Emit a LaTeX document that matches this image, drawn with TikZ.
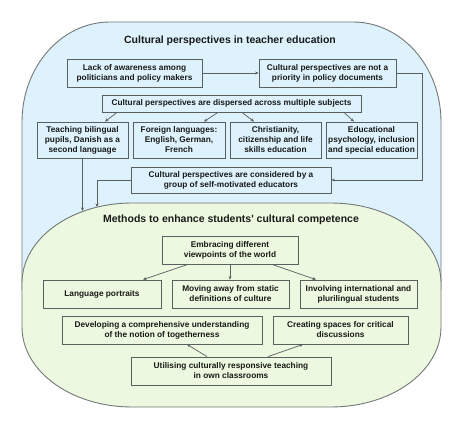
\documentclass[tikz,border=0pt]{standalone}
\usepackage{fontspec}
\setmainfont{Liberation Sans}
\usetikzlibrary{arrows.meta,positioning}
\definecolor{bgblue}{RGB}{221,242,252}
\definecolor{bggreen}{RGB}{236,248,223}
\definecolor{edge}{RGB}{90,96,96}
\definecolor{rim}{RGB}{115,120,120}
\definecolor{ink}{RGB}{25,25,25}
\begin{document}
\begin{tikzpicture}[x=1pt, y=-1pt,
	box/.style={draw=edge, line width=0.8pt, align=center, text=ink, inner sep=1pt,
	font=\bfseries\fontsize{8.3}{10}\selectfont},
	bbox/.style={box, fill=bgblue},
	gbox/.style={box, fill=bggreen},
	ttl/.style={text=ink, font=\bfseries\fontsize{10.5}{12}\selectfont},
	arr/.style={draw=edge, line width=0.7pt, -{Stealth[length=3.5pt,width=3pt]}}]
\useasboundingbox (0,0) rectangle (463,430);
\fill[white] (0,0) rectangle (463,430);
\draw[draw=rim, fill=bgblue, line width=0.9pt] (22,290) -- (22,122)
	arc[start angle=180, end angle=270, x radius=88, y radius=100] -- (353,22)
	arc[start angle=270, end angle=360, x radius=88, y radius=100] -- (441,290) -- cycle;
\draw[draw=rim, fill=bggreen, line width=0.9pt] (132,203) -- (331,203)
	arc[start angle=270, end angle=360, x radius=110, y radius=80] -- (441,327)
	arc[start angle=0, end angle=90, x radius=110, y radius=80] -- (132,407)
	arc[start angle=90, end angle=180, x radius=110, y radius=80] -- (22,283)
	arc[start angle=180, end angle=270, x radius=110, y radius=80] -- cycle;
\node[ttl] (t1) at (230,41) {Cultural perspectives in teacher education};
\node[bbox, minimum width=135pt, minimum height=28pt] (lack) at (134.5,73) {Lack of awareness among\\politicians and policy makers};
\node[bbox, minimum width=137pt, minimum height=28pt] (prio) at (327.5,73) {Cultural perspectives are not a\\priority in policy documents};
\node[bbox, minimum width=259pt, minimum height=17pt] (disp) at (231.5,103.5) {Cultural perspectives are dispersed across multiple subjects};
\node[bbox, minimum width=91pt, minimum height=36pt] (tA) at (82.5,140) {Teaching bilingual\\pupils, Danish as a\\second language};
\node[bbox, minimum width=92pt, minimum height=36pt] (tB) at (179,140) {Foreign languages:\\English, German,\\French};
\node[bbox, minimum width=91pt, minimum height=36pt] (tC) at (275.5,140) {Christianity,\\citizenship and life\\skills education};
\node[bbox, minimum width=91pt, minimum height=36pt] (tD) at (371.5,140) {Educational\\psychology, inclusion\\and special education};
\node[bbox, minimum width=200pt, minimum height=26pt] (cons) at (231,180) {Cultural perspectives are considered by a\\group of self-motivated educators};
\coordinate (tipA) at (82.5,211);
\coordinate (tipB) at (97,207);
\draw[arr] (lack.east) to (prio.west);
\draw[arr] ([xshift=-114.5pt]disp.south) to ([xshift=22.5pt]tA.north);
\draw[arr] ([xshift=-13.5pt]disp.south) to ([xshift=25pt]tB.north);
\draw[arr] ([xshift=10.5pt]disp.south) to ([xshift=-21.5pt]tC.north);
\draw[arr] ([xshift=112.5pt]disp.south) to ([xshift=-17.5pt]tD.north);
\draw[arr] (prio.east) -- ++(26,0) |- (cons.east);
\draw[arr] (cons.west) -| (tipB);
\draw[arr] (tA.south) to (tipA);
\node[ttl] (t2) at (231,220) {Methods to enhance students\textquotesingle{} cultural competence};
\node[gbox, minimum width=136pt, minimum height=28pt] (emb) at (230,250) {Embracing different\\viewpoints of the world};
\node[gbox, minimum width=118pt, minimum height=28pt] (lp) at (102,294) {Language portraits};
\node[gbox, minimum width=117pt, minimum height=28pt] (mov) at (230.5,294) {Moving away from static\\definitions of culture};
\node[gbox, minimum width=117pt, minimum height=28pt] (inv) at (358.5,294) {Involving international and\\plurilingual students};
\node[gbox, minimum width=200pt, minimum height=28pt] (dev) at (162,330) {Developing a comprehensive understanding\\of the notion of togetherness};
\node[gbox, minimum width=135pt, minimum height=28pt] (cre) at (340.5,330) {Creating spaces for critical\\discussions};
\node[gbox, minimum width=200pt, minimum height=28pt] (uti) at (231,371) {Utilising culturally responsive teaching\\in own classrooms};
\draw[arr] ([xshift=-42pt]emb.south) to ([xshift=41pt]lp.north);
\draw[arr] (emb.south) to (emb.south |- mov.north);
\draw[arr] ([xshift=42pt]emb.south) to ([xshift=-42.5pt]inv.north);
\draw[arr] ([xshift=-24pt]uti.north) to ([xshift=25pt]dev.south);
\draw[arr] ([xshift=37pt]uti.north) to ([xshift=-37.5pt]cre.south);
\end{tikzpicture}
\end{document}
